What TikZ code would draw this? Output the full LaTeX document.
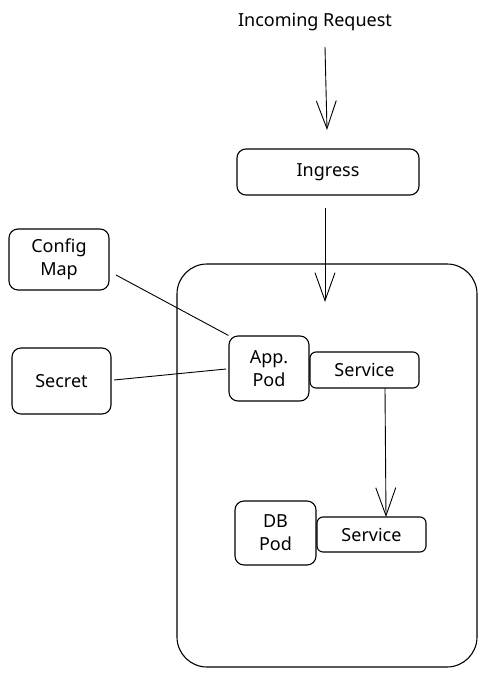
\documentclass[tikz,border=0pt]{standalone}
\usepackage{fontspec}
\setmainfont{Noto Sans}
\usetikzlibrary{arrows.meta}
\begin{document}
\begin{tikzpicture}[x=1pt,y=-1pt,
  lbl/.style={font=\fontsize{18}{23}\selectfont, align=center, inner sep=0pt},
  boxr/.style={draw, line width=1.1pt, rounded corners=9pt},
  conn/.style={line width=0.9pt},
  arr/.style={conn, -{Straight Barb[length=28pt,width=20pt,line width=0.9pt]}},
]
\useasboundingbox (0,0) rectangle (487,678);
% container
\draw[boxr, rounded corners=30pt] (177,264) rectangle (477,667);
\node[lbl] (inc) at (315,22) {Incoming Request};
\node[boxr, minimum width=182pt, minimum height=46pt] (ing) at (328,172) {};
\node[lbl] at (ing.center) {Ingress};
\node[boxr, minimum width=100pt, minimum height=61pt, lbl] (cfg) at (59,259.5) {Config\\Map};
\node[boxr, minimum width=99pt, minimum height=66pt, lbl] (sec) at (61.5,381) {Secret};
\node[boxr, minimum width=80pt, minimum height=65pt, lbl] (app) at (269,368.5) {App.\\Pod};
\node[boxr, rounded corners=6pt, minimum width=109pt, minimum height=36pt, lbl] (svc1) at (364.5,370) {Service};
\node[boxr, minimum width=81pt, minimum height=64pt, lbl] (db) at (275.5,533) {DB\\Pod};
\node[boxr, rounded corners=6pt, minimum width=109pt, minimum height=35pt, lbl] (svc2) at (371.5,534.5) {Service};
\coordinate (reqS) at (325,47);
\coordinate (reqE) at (327,130);
\coordinate (ingS) at (325,208);
\coordinate (top) at (325,302);
\coordinate (cfgE) at (116,275);
\coordinate (secE) at (114,380);
\coordinate (appW) at (226,369);
\coordinate (svcS) at (385,388);
\coordinate (svc2N) at (386,517);
\draw[arr] (reqS) -- (reqE);
\draw[arr] (ingS) -- (top);
\draw[conn] (cfgE) -- (app.north west);
\draw[conn] (secE) -- (appW);
\draw[arr] (svcS) -- (svc2N);
\end{tikzpicture}
\end{document}
